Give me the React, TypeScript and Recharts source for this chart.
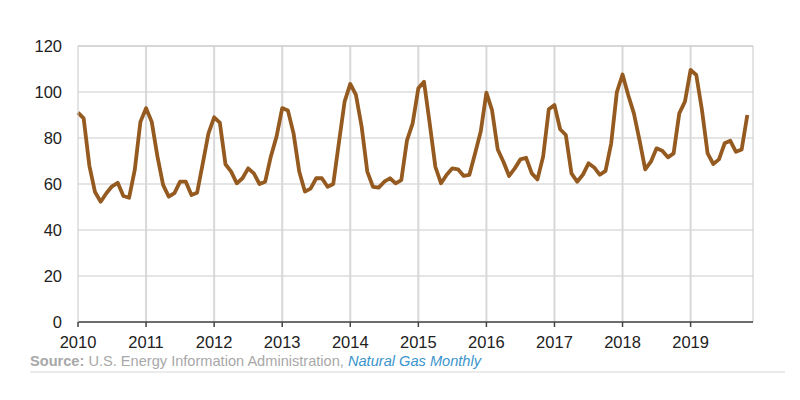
import React from "react";
import { LineChart, Line, XAxis, YAxis, CartesianGrid, ReferenceLine } from "recharts";

const startYear = 2010;
const yearLabels = ["2010", "2011", "2012", "2013", "2014", "2015", "2016", "2017", "2018", "2019"];
const yTicks = [0, 20, 40, 60, 80, 100, 120];

// Monthly values, Jan 2010 .. Nov 2019
const values = [
  91, 88.5, 68, 56.5, 52.3, 56, 59, 60.5, 54.8, 54, 66, 87,
  93, 87, 72, 59.6, 54.5, 56, 61, 61, 55.2, 56.2, 69, 82,
  89, 86.7, 68.6, 65.4, 60.3, 62.5, 66.8, 64.6, 60, 61, 72, 80.6,
  93, 92, 82, 65.4, 56.7, 58, 62.5, 62.5, 58.8, 60, 78, 95.8,
  103.5, 98.7, 85, 65.4, 58.8, 58.4, 61, 62.5, 60.3, 61.7, 79, 86.4,
  101.6, 104.5, 86.4, 67.5, 60.3, 64, 66.8, 66.4, 63.5, 64, 73.3, 82.8,
  99.7, 92, 75, 69.7, 63.5, 66.8, 70.7, 71.4, 64.6, 62, 71.9, 92.5,
  94.3, 83.8, 81.3, 64.6, 61, 64, 69, 67.2, 64, 65.7, 77.7, 100,
  107.6, 98.7, 90.7, 79, 66.4, 69.7, 75.5, 74.5, 71.6, 73.3, 90.7, 95.8,
  109.6, 107.4, 92.2, 73.3, 68.7, 70.7, 77.7, 78.8, 74, 75, 90,
];

const data = values.map((v, i) => ({ m: i, value: v }));
const xTicks = yearLabels.map((_, i) => i * 12);

export default function App() {
  return (
    <div style={{ position: "relative", width: 792, height: 392, fontFamily: "'Liberation Sans', Arial, sans-serif" }}>
      <LineChart
        width={792}
        height={392}
        data={data}
        margin={{ top: 38, right: 47, left: 30, bottom: 48 }}
      >
        <CartesianGrid stroke="#dcdcdc" strokeWidth={1.5} vertical={false} />
        <ReferenceLine x={12} stroke="#d8d8d8" strokeWidth={2} />
        <ReferenceLine x={24} stroke="#d8d8d8" strokeWidth={2} />
        <ReferenceLine x={36} stroke="#d8d8d8" strokeWidth={2} />
        <ReferenceLine x={48} stroke="#d8d8d8" strokeWidth={2} />
        <ReferenceLine x={60} stroke="#d8d8d8" strokeWidth={2} />
        <ReferenceLine x={72} stroke="#d8d8d8" strokeWidth={2} />
        <ReferenceLine x={84} stroke="#d8d8d8" strokeWidth={2} />
        <ReferenceLine x={96} stroke="#d8d8d8" strokeWidth={2} />
        <ReferenceLine x={108} stroke="#d8d8d8" strokeWidth={2} />
        <XAxis
          dataKey="m"
          type="number"
          domain={[0, 119]}
          ticks={xTicks}
          tickFormatter={(v: number) => String(startYear + v / 12)}
          axisLine={{ stroke: "#444", strokeWidth: 1.5 }}
          tickLine={{ stroke: "#444", strokeWidth: 1.5 }}
          tickSize={5}
          tickMargin={9}
          height={30}
          tick={{ fill: "#222", fontSize: 16.5, fontFamily: "'Liberation Sans', Arial, sans-serif" }}
        />
        <YAxis
          domain={[0, 120]}
          ticks={yTicks}
          width={40}
          axisLine={{ stroke: "#c8c8c8", strokeWidth: 1 }}
          tickLine={false}
          tickMargin={10}
          tick={{ fill: "#222", fontSize: 16.5, fontFamily: "'Liberation Sans', Arial, sans-serif" }}
        />
        <ReferenceLine y={120} stroke="#c8c8c8" strokeWidth={1} />
        <ReferenceLine x={119} stroke="#c8c8c8" strokeWidth={1} />
        <Line
          type="linear"
          dataKey="value"
          stroke="#955A1F"
          strokeWidth={3.8}
          dot={false}
          strokeLinejoin="round"
          isAnimationActive={false}
        />
      </LineChart>
      <div
        style={{
          position: "absolute",
          left: 22,
          top: 345,
          fontSize: 14.6,
          whiteSpace: "nowrap",
          color: "#a8a8a8",
        }}
      >
        <span style={{ fontWeight: "bold" }}>Source:</span> U.S. Energy Information Administration,{" "}
        <span style={{ fontStyle: "italic", color: "#3b95cc" }}>Natural Gas Monthly</span>
      </div>
      <div
        style={{
          position: "absolute",
          left: 22,
          top: 363,
          width: 755,
          height: 2,
          background: "#ebebeb",
        }}
      />
    </div>
  );
}
